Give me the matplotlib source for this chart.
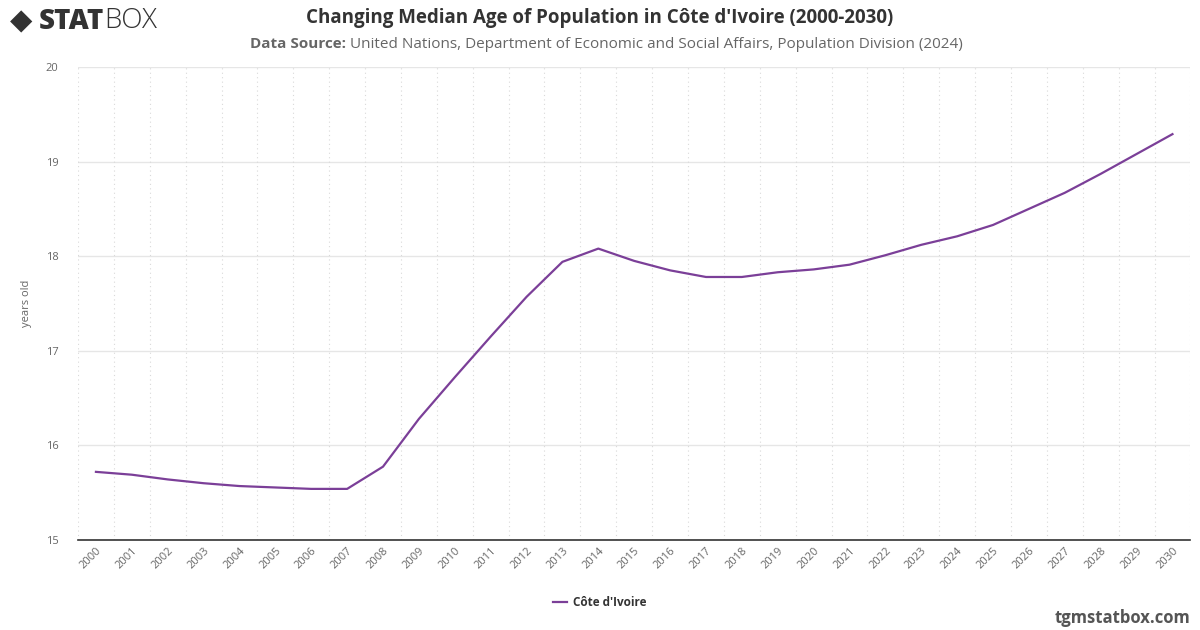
import numpy as np
import matplotlib.pyplot as plt
from matplotlib.lines import Line2D

years = list(range(2000, 2031))
median_age = [
    15.72, 15.69, 15.64, 15.60, 15.57, 15.555, 15.54, 15.54, 15.775, 16.28,
    16.72, 17.15, 17.57, 17.94, 18.08, 17.95, 17.85, 17.78, 17.78, 17.83,
    17.86, 17.91, 18.01, 18.12, 18.21, 18.33, 18.50, 18.67, 18.87, 19.08,
    19.29,
]
series_name = "Côte d'Ivoire"
title = "Changing Median Age of Population in Côte d'Ivoire (2000-2030)"
source = "United Nations, Department of Economic and Social Affairs, Population Division (2024)"

plt.rcParams["font.family"] = ["Open Sans", "DejaVu Sans"]

fig = plt.figure(figsize=(12, 6.3), dpi=100)
ax = fig.add_axes([0.065, 0.1429, 0.927, 0.7508])

line_color = "#7b3f98"
ax.plot(years, median_age, color=line_color, lw=1.6, zorder=3)

ax.set_xlim(years[0] - 0.5, years[-1] + 0.5)
ax.set_ylim(15, 20)
ax.set_yticks(np.arange(15, 21, 1))
ax.set_xticks(years)
ax.set_xticklabels([str(y) for y in years], rotation=45, ha="right",
                   rotation_mode="anchor", fontsize=8, color="#666666")
ax.tick_params(axis="y", labelsize=8, colors="#666666", length=0, pad=14)
ax.tick_params(axis="x", length=0, pad=4)
for lbl in ax.get_xticklabels():
    lbl.set_x(lbl.get_position()[0])

# grid: solid horizontal, dotted vertical between categories
for y in range(15, 21):
    ax.axhline(y, color="#e6e6e6", lw=1, zorder=1)
for x in np.arange(years[0] - 0.5, years[-1] + 1, 1):
    ax.axvline(x, color="#d9d9d9", lw=0.8, ls=(0, (1, 3)), zorder=1)

for s in ["left", "right", "top"]:
    ax.spines[s].set_visible(False)
ax.spines["bottom"].set_color("#333333")
ax.spines["bottom"].set_linewidth(1.2)

ax.set_ylabel("years old", fontsize=8, color="#666666", labelpad=10)

# title and subtitle
fig.text(0.5, 0.971, title, ha="center", va="center", fontsize=13.5,
         fontweight="bold", color="#333333")
sub_bold = fig.text(0.5, 0.93, "Data Source: ", ha="right", va="center",
                    fontsize=11, fontweight="bold", color="#666666")
fig.canvas.draw()
renderer = fig.canvas.get_renderer()
bb = sub_bold.get_window_extent(renderer=renderer)
full = fig.text(0, 0.93, source, ha="left", va="center", fontsize=11, color="#666666")
wfull = full.get_window_extent(renderer=renderer).width
total = bb.width + wfull
start = (1200 - total) / 2 + 6
sub_bold.set_position((start / 1200, 0.93))
sub_bold.set_ha("left")
full.set_position(((start + bb.width) / 1200, 0.93))

# logo
logo_y = 0.966
fig.text(0.008, logo_y, "◆", fontsize=21, color="#333333", ha="left", va="center",
         family="DejaVu Sans")
stat = fig.text(0.032, logo_y, "STAT", fontsize=20, fontweight="heavy",
                color="#333333", ha="left", va="center")
sb = stat.get_window_extent(renderer=renderer)
fig.text(sb.x1 / 1200, logo_y, "BOX", fontsize=20, fontweight="light",
         color="#333333", ha="left", va="center")

# legend
handle = Line2D([], [], color=line_color, lw=1.6)
fig.legend([handle], [series_name], loc="center", bbox_to_anchor=(0.5, 0.044),
           frameon=False, handlelength=1.2, handletextpad=0.5,
           prop={"weight": "bold", "size": 8.5})
for t in fig.legends[0].get_texts():
    t.set_color("#333333")

fig.text(0.992, 0.019, "tgmstatbox.com", ha="right", va="center", fontsize=12,
         fontweight="bold", color="#555555")

fig.savefig("out.png", dpi=100)
